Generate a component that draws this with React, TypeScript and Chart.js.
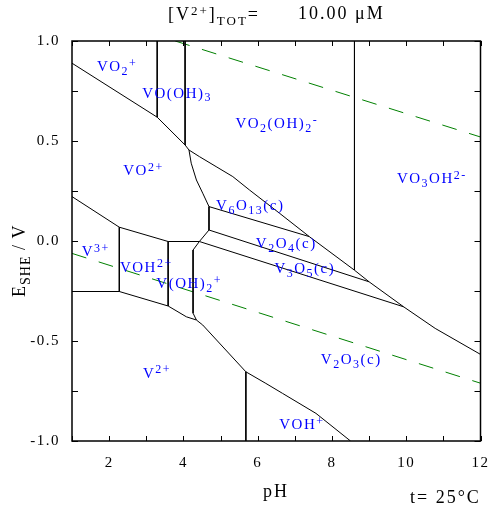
import { useEffect, useRef } from "react";
import { Chart, registerables } from "chart.js";

Chart.register(...registerables);

// boundary lines of the diagram, [pH, E / V]
const vo2Lower = [[1.0, 0.889], [3.294, 0.619], [4.045, 0.48], [4.15, 0.455]];
const vo2ohLeft = [[3.294, 1.0], [3.294, 0.619]];
const vo2oh2Left = [[4.045, 1.0], [4.045, 0.48]];
const vo3ohLeft = [[8.606, 1.0], [8.606, -0.145]];
const vanadateLower = [
  [4.15, 0.455], [4.43, 0.422], [4.88, 0.372], [5.33, 0.322], [5.78, 0.255],
  [6.58, 0.14], [7.39, 0.022], [8.6, -0.145], [9.0, -0.204], [9.93, -0.329],
  [10.78, -0.437], [12.0, -0.567],
];
const v6o13Left = [[4.15, 0.455], [4.21, 0.389], [4.35, 0.305], [4.52, 0.239], [4.689, 0.172]];
const v2o4Left = [[4.689, 0.172], [4.689, 0.055]];
const v6o13Lower = [[4.689, 0.172], [7.39, 0.022]];
const v2o4Lower = [[4.689, 0.055], [9.0, -0.204]];
const v3o5Lower = [[4.43, -0.0025], [9.93, -0.329]];
const v3o5Left = [[4.43, -0.0025], [4.689, 0.055]];
const vo2pLower = [[1.0, 0.222], [2.274, 0.069], [3.589, -0.0025], [4.43, -0.0025]];
const vohLeft = [[2.274, 0.069], [2.274, -0.2525]];
const voh2Left = [[3.589, -0.0025], [3.589, -0.325]];
const v3Lower = [[1.0, -0.2525], [2.274, -0.2525]];
const v2Upper = [[2.274, -0.2525], [3.589, -0.325], [4.08, -0.379], [4.35, -0.395], [4.52, -0.42], [5.682, -0.654]];
const v2o3Left = [[4.43, -0.0025], [4.26, -0.045], [4.26, -0.361], [4.35, -0.395]];
const vohpLeft = [[5.682, -0.654], [5.682, -1.0]];
const vohpUpper = [[5.682, -0.654], [6.22, -0.712], [6.67, -0.762], [7.57, -0.862], [8.5, -1.0]];

// water stability lines
const o2Line = [[3.78, 1.0], [12, 0.52]];
const h2Line = [[1, -0.062], [12, -0.711]];

// region names: "_" = subscript, "^" = superscript
const speciesNames = [
  ["VO", "_2", "^+"],
  ["VO(OH)", "_3"],
  ["VO", "_2", "(OH)", "_2", "^-"],
  ["VO", "^2+"],
  ["VO", "_3", "OH", "^2-"],
  ["V", "_6", "O", "_13", "(c)"],
  ["V", "_2", "O", "_4", "(c)"],
  ["V", "_3", "O", "_5", "(c)"],
  ["V", "^3+"],
  ["VOH", "^2+"],
  ["V(OH)", "_2", "^+"],
  ["V", "^2+"],
  ["V", "_2", "O", "_3", "(c)"],
  ["VOH", "^+"],
];
const speciesAt = [
  [1.67, 0.85], [2.89, 0.717], [5.4, 0.565], [2.38, 0.33], [9.75, 0.288],
  [4.88, 0.155], [5.95, -0.034], [6.45, -0.162], [1.26, -0.075], [2.29, -0.153],
  [3.27, -0.237], [2.91, -0.683], [7.7, -0.615], [6.58, -0.942],
];

const titleParts = ["[V", "^2+", "]", "_TOT", "="];
const titleValue = "10.00 μM";
const xTitle = "pH";
const yTitleParts = ["E", "_SHE", " / V"];
const tempNote = "t= 25°C";

const boundaries = [
  vo2Lower, vo2ohLeft, vo2oh2Left, vo3ohLeft, vanadateLower, v6o13Left, v2o4Left,
  v6o13Lower, v2o4Lower, v3o5Lower, v3o5Left, vo2pLower, vohLeft, voh2Left,
  v3Lower, v2Upper, v2o3Left, vohpLeft, vohpUpper,
];

const SERIF = "'Liberation Serif', 'Times New Roman', serif";

function drawRich(ctx: CanvasRenderingContext2D, parts: string[], x: number, y: number, size: number, small: number) {
  let cx = x;
  for (const p of parts) {
    let txt = p;
    let dy = 0;
    let sz = size;
    if (p[0] === "_") {
      txt = p.slice(1);
      dy = size * 0.25;
      sz = small;
    } else if (p[0] === "^") {
      txt = p.slice(1);
      dy = -size * 0.3;
      sz = small;
    }
    ctx.font = `${sz}px ${SERIF}`;
    ctx.fillText(txt, cx, y + dy);
    cx += ctx.measureText(txt).width;
  }
}

const overlay = {
  id: "overlay",
  beforeDraw(chart: any) {
    chart.ctx.letterSpacing = "1.5px";
  },
  afterDraw(chart: any) {
    const { ctx, chartArea: a } = chart;
    const xs = chart.scales.x;
    const ys = chart.scales.y;
    ctx.save();
    ctx.strokeStyle = "#000";
    ctx.lineWidth = 1.5;
    ctx.strokeRect(a.left, a.top, a.right - a.left, a.bottom - a.top);
    ctx.lineWidth = 1;
    ctx.beginPath();
    xs.ticks.forEach((t: any) => {
      const px = Math.round(xs.getPixelForValue(t.value)) + 0.5;
      ctx.moveTo(px, a.bottom);
      ctx.lineTo(px, a.bottom - 5);
      ctx.moveTo(px, a.top);
      ctx.lineTo(px, a.top + 5);
    });
    ys.ticks.forEach((t: any) => {
      const py = Math.round(ys.getPixelForValue(t.value)) + 0.5;
      ctx.moveTo(a.left, py);
      ctx.lineTo(a.left + 6, py);
      ctx.moveTo(a.right, py);
      ctx.lineTo(a.right - 6, py);
    });
    ctx.stroke();

    // region labels
    ctx.letterSpacing = "1.5px";
    ctx.fillStyle = "#0000ff";
    ctx.textAlign = "left";
    ctx.textBaseline = "alphabetic";
    speciesNames.forEach((parts, i) => {
      const [ph, e] = speciesAt[i];
      drawRich(ctx, parts, xs.getPixelForValue(ph), ys.getPixelForValue(e), 15, 12);
    });

    // titles
    ctx.fillStyle = "#000";
    ctx.letterSpacing = "2px";
    drawRich(ctx, titleParts, 168, 20, 18, 13);
    ctx.font = `18px ${SERIF}`;
    ctx.fillText(titleValue, 298, 19);
    ctx.fillText(xTitle, 263, 497);
    ctx.fillText(tempNote, 410, 503);

    ctx.save();
    ctx.translate(25, 297);
    ctx.rotate(-Math.PI / 2);
    ctx.letterSpacing = "1px";
    drawRich(ctx, yTitleParts, 0, 0, 18, 14);
    ctx.restore();

    ctx.restore();
  },
};

export default function App() {
  const canvasRef = useRef<HTMLCanvasElement>(null!);

  useEffect(() => {
    const toPts = (arr: number[][]) => arr.map(([x, y]) => ({ x, y }));
    const datasets: any[] = boundaries.map((b) => ({
      data: toPts(b),
      showLine: true,
      borderColor: "#000",
      borderWidth: 1,
      pointRadius: 0,
      tension: 0,
      fill: false,
    }));
    [o2Line, h2Line].forEach((w) =>
      datasets.push({
        data: toPts(w),
        showLine: true,
        borderColor: "#008000",
        borderWidth: 1,
        borderDash: [15, 13],
        pointRadius: 0,
        fill: false,
      })
    );

    const tickFont = { family: SERIF, size: 15 };
    const chart = new Chart(canvasRef.current, {
      type: "scatter",
      data: { datasets },
      options: {
        animation: false,
        responsive: false,
        events: [],
        layout: { padding: { left: 0, top: 41, right: 19, bottom: 0 } },
        plugins: { legend: { display: false }, tooltip: { enabled: false } },
        scales: {
          x: {
            type: "linear",
            min: 1,
            max: 12,
            grid: { display: false, drawTicks: false },
            border: { display: false },
            ticks: {
              stepSize: 1,
              autoSkip: false,
              maxRotation: 0,
              padding: 13,
              color: "#000",
              font: tickFont,
              callback: (v: any) => (Number(v) % 2 === 0 ? String(v) : ""),
            },
            afterFit: (s: any) => {
              s.height = 72;
            },
          },
          y: {
            type: "linear",
            min: -1,
            max: 1,
            grid: { display: false, drawTicks: false },
            border: { display: false },
            ticks: {
              stepSize: 0.25,
              autoSkip: false,
              padding: 12,
              color: "#000",
              font: tickFont,
              callback: (v: any) => {
                const n = Number(v);
                return Math.abs(n * 2 - Math.round(n * 2)) < 1e-6 ? n.toFixed(1) : "";
              },
            },
            afterFit: (s: any) => {
              s.width = 72;
            },
          },
        },
      },
      plugins: [overlay],
    });
    return () => chart.destroy();
  }, []);

  return (
    <div style={{ position: "absolute", left: 0, top: 0, width: 501, height: 513, background: "#fff" }}>
      <canvas ref={canvasRef} width={501} height={513} style={{ display: "block" }} />
    </div>
  );
}
